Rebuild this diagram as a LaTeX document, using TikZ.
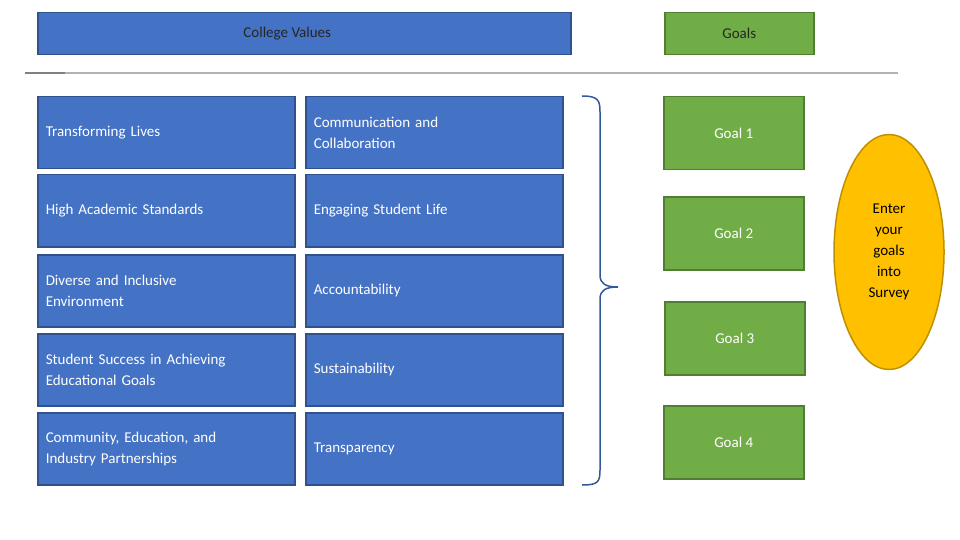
\documentclass[tikz,border=0pt]{standalone}
\usepackage{fontspec}
\setmainfont{Carlito}
\usetikzlibrary{shapes.geometric}
\definecolor{bl}{HTML}{4472C4}\definecolor{blb}{HTML}{2F528F}
\definecolor{gr}{HTML}{70AD47}\definecolor{grb}{HTML}{507E32}
\definecolor{yl}{HTML}{FFC000}\definecolor{ylb}{HTML}{BF9000}
\begin{document}
\begin{tikzpicture}[x=1pt,y=-1pt,font=\fontsize{15}{21}\selectfont,
 vbox/.style={draw=blb,fill=bl,line width=1.5pt,text=white,align=left,anchor=north west,minimum height=72pt,text width=241pt,inner xsep=8pt},
 gbox/.style={draw=grb,fill=gr,line width=1.5pt,text=white,anchor=north west,minimum width=140pt,minimum height=73pt}]
\useasboundingbox (0,0) rectangle (960,540);
\node[draw=blb,fill=bl,line width=1.5pt,anchor=north west,minimum width=533pt,minimum height=42pt,text=black!85] (cv) at (37,12) {\hspace*{-34pt}College Values};
\node[draw=grb,fill=gr,line width=1.5pt,anchor=north west,minimum width=149pt,minimum height=42pt,text=black!85] (gl) at (664,12) {Goals};
\draw[gray!60,line width=2pt] (65,73) -- (898,73);
\draw[gray,line width=2pt] (25,73) -- (65,73);
\foreach \y/\a/\b [count=\i] in {96/Transforming Lives/Communication and\\Collaboration,
 174/High Academic Standards/Engaging Student Life,
 254/Diverse and Inclusive\\Environment/Accountability,
 333/Student Success in Achieving\\Educational Goals/Sustainability,
 412/{Community, Education, and}\\Industry Partnerships/Transparency}{
 \node[vbox] (a\i) at (37,\y) {\a};
 \node[vbox] (b\i) at (305,\y) {\b};
}
\node[gbox] (g1) at (663,96) {Goal 1};
\node[gbox] (g2) at (663,196) {Goal 2};
\node[gbox] (g3) at (664,301) {Goal 3};
\node[gbox] (g4) at (663,405) {Goal 4};
\draw[blb!80!bl,line width=1.5pt] (582,96) .. controls (598,96) and (600,100) .. (600,112) -- (600,275) .. controls (600,284) and (606,287) .. (618,287)
 (600,299) .. controls (600,290) and (606,287) .. (618,287)
 (600,299) -- (600,470) .. controls (600,482) and (598,485) .. (582,485);
\node[ellipse,draw=ylb,fill=yl,line width=1.5pt,minimum width=110pt,minimum height=235pt,align=center,inner sep=0pt] (e) at (889,252) {Enter\\your\\goals\\into\\Survey};
\end{tikzpicture}
\end{document}
